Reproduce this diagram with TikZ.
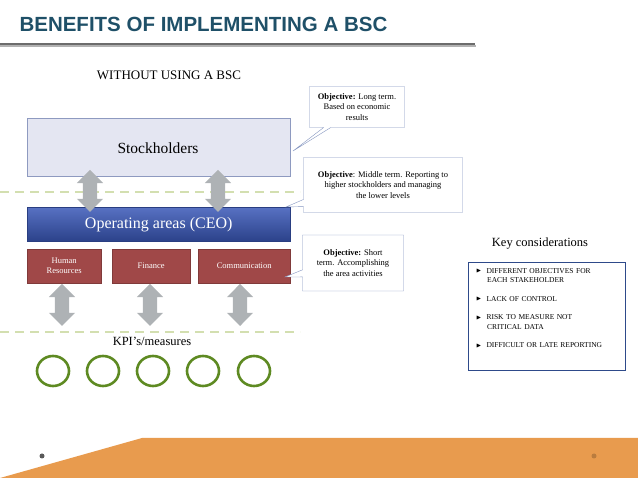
\documentclass[tikz,border=0pt]{standalone}
\usepackage{amssymb}
\usepackage{fontspec}
\setmainfont{Liberation Serif}
\newfontfamily\titlefont{Liberation Sans}
\usetikzlibrary{shapes.callouts,shapes.arrows,shapes.geometric}
\definecolor{titleblue}{HTML}{1F5068}
\definecolor{stockfill}{HTML}{E4E6F2}
\definecolor{stockline}{HTML}{8E9AC0}
\definecolor{opblue}{HTML}{3A58B8}
\definecolor{areared}{HTML}{A04848}
\definecolor{dashgreen}{HTML}{D3DFB0}
\definecolor{arrowgray}{HTML}{AEB2B5}
\definecolor{kpigreen}{HTML}{5E8A22}
\definecolor{calloutline}{HTML}{8495C0}
\definecolor{keyblue}{HTML}{2E4A8A}
\definecolor{footorange}{HTML}{E89B4E}
\newcommand{\keyitem}{\raisebox{0.5pt}{\scalebox{0.8}{$\blacktriangleright$}}~~}
\tikzset{
  area/.style={draw=areared!80!black, fill=areared, text=white, font=\fontsize{8.5}{10}\selectfont, align=center, minimum height=34pt, inner sep=1pt},
  link/.style={double arrow, fill=arrowgray, rotate=90, minimum height=42pt, inner sep=7pt, double arrow head extend=6pt},
  objective/.style={rectangle callout, draw=calloutline, fill=white, align=center, font=\fontsize{8.5}{10.5}\selectfont, inner sep=3pt},
  kpi/.style={ellipse, draw=kpigreen, line width=2.6pt, minimum width=32pt, minimum height=30pt},
  level/.style={dashgreen, line width=2pt, dash pattern=on 9pt off 6pt}
}
\begin{document}
\begin{tikzpicture}[x=1pt, y=-1pt]
\useasboundingbox (0,0) rectangle (638,478);
% title
\node[anchor=west, text=titleblue, font=\titlefont\bfseries\fontsize{20.5}{23}\selectfont] (title) at (16,24) {BENEFITS OF IMPLEMENTING A BSC};
\fill[gray!60] (0,45) rectangle (476,47);
\fill[gray!85!black] (0,43) rectangle (475,45.5);
\node[font=\fontsize{13}{15}\selectfont] (without) at (169,75) {WITHOUT USING A BSC};

% levels
\node[draw=stockline, fill=stockfill, minimum width=263pt, minimum height=58pt, anchor=north west, inner sep=0pt] (stock) at (27,118) {};
\node[font=\fontsize{15.5}{17}\selectfont] (stocktext) at (158,148) {Stockholders};
\draw[level] (0,192) -- (300,192);
\node[draw=opblue!70!black, top color=opblue!85!white, bottom color=opblue!75!black, text=white, minimum width=263pt, minimum height=34pt, anchor=north west, inner sep=0pt, font=\fontsize{16}{18}\selectfont] (ceo) at (27,207) {Operating areas (CEO)};
\node[area, minimum width=74pt, anchor=north west] (hr) at (27,249) {Human\\Resources};
\node[area, minimum width=78pt, anchor=north west] (fin) at (112,249) {Finance};
\node[area, minimum width=92pt, anchor=north west] (com) at (198,249) {Communication};
\draw[level] (0,332) -- (300,332);
\node[font=\fontsize{12.5}{14}\selectfont] (kpitext) at (152,341) {KPI's/measures};

% arrows
\node[link] (l1) at (90,191) {};
\node[link] (l2) at (218,191) {};
\node[link] (l3) at (62,305) {};
\node[link] (l4) at (150,305) {};
\node[link] (l5) at (240,305) {};

% kpis
\foreach \x [count=\i] in {53,103,153,203,254}
  \node[kpi] (k\i) at (\x,371) {};

% callouts
\node[objective, minimum width=95pt, minimum height=41pt, callout absolute pointer={(293,151)}] (obj1) at (357,107) {\textbf{Objective:} Long term.\\Based on economic\\results};
\node[objective, minimum width=159pt, minimum height=55pt, callout absolute pointer={(286,207)}] (obj2) at (383,185) {\textbf{Objective}: Middle term. Reporting to\\higher stockholders and managing\\the lower levels};
\node[objective, minimum width=101pt, minimum height=56pt, callout absolute pointer={(285,277)}] (obj3) at (353,263) {\textbf{Objective:} Short\\term. Accomplishing\\the area activities};

% key considerations
\node[font=\fontsize{12.5}{14}\selectfont] (keytitle) at (540,244) {Key considerations};
\node[draw=keyblue, line width=1.3pt, minimum width=157pt, minimum height=108pt, anchor=north west, inner sep=0pt] (keybox) at (468,262) {};
\node[anchor=north west, text width=145pt, font=\fontsize{7.5}{9.5}\selectfont, inner sep=0pt] (keylist) at (476,268) {%
\keyitem DIFFERENT OBJECTIVES FOR\\\hspace*{11pt}EACH STAKEHOLDER\\[9pt]
\keyitem LACK OF CONTROL\\[9pt]
\keyitem RISK TO MEASURE NOT\\\hspace*{11pt}CRITICAL DATA\\[9pt]
\keyitem DIFFICULT OR LATE REPORTING};

% footer
\fill[footorange] (0,478) -- (142,438) -- (638,438) -- (638,478) -- cycle;
\fill[gray!70!black] (42,456) circle (2.5pt);
\fill[footorange!80!black] (594,456) circle (2.5pt);
\end{tikzpicture}
\end{document}
